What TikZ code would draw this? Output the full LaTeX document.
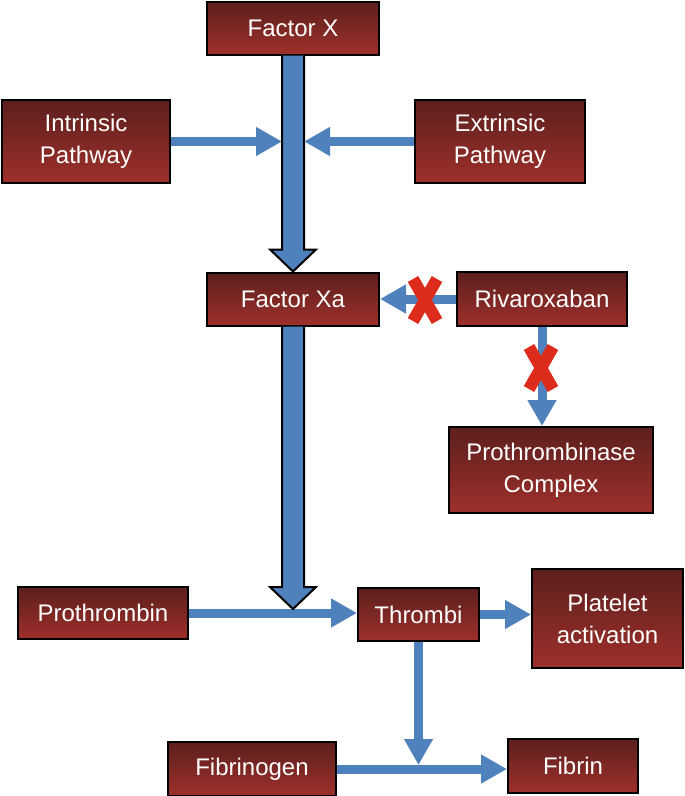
\documentclass[tikz,border=0pt]{standalone}
\usepackage{fontspec}
\setmainfont{Liberation Sans}
\usetikzlibrary{arrows.meta,calc}

\definecolor{boxtop}{RGB}{92,31,29}
\definecolor{boxbottom}{RGB}{158,48,43}
\definecolor{linkblue}{RGB}{79,129,189}
\definecolor{crossred}{RGB}{222,44,28}

\begin{document}
\begin{tikzpicture}[x=0.75pt,y=-0.75pt,
    box/.style 2 args={draw=black,line width=1.5pt,top color=boxtop,bottom color=boxbottom,
        text=white,align=center,inner sep=0pt,font=\fontsize{18}{24}\selectfont,
        minimum width=#1*0.75pt,minimum height=#2*0.75pt},
    link/.style={draw=linkblue,line width=6.75pt,-{Triangle[length=19.5pt,width=20.5pt]}},
    fat/.style={fill=linkblue,draw=black,line width=1.5pt,line join=miter},
    redx/.style={draw=crossred,line width=9pt}]
        \useasboundingbox (0,0) rectangle (685,796);

        \node[box={172}{53}] (fx) at (293,28) {Factor X};
        \node[box={168}{83}] (intr) at (86,141) {Intrinsic\\Pathway};
        \node[box={170}{83}] (extr) at (500,141) {Extrinsic\\Pathway};
        \node[box={172}{53}] (fxa) at (293,299) {Factor Xa};
        \node[box={170}{54}] (riva) at (542,299) {Rivaroxaban};
        \node[box={204}{86}] (ptc) at (551,470) {Prothrombinase\\Complex};
        \node[box={170}{52}] (pro) at (103,613) {Prothrombin};
        \node[box={121}{53}] (thr) at (418.5,614.5) {Thrombi};
        \node[box={151}{99}] (plt) at (607.5,618.5) {Platelet\\activation};
        \node[box={168}{54}] (fbg) at (252,769) {Fibrinogen};
        \node[box={130}{54}] (fbn) at (573,766) {Fibrin};

        \coordinate (jl) at ($(fx.south)+(-11,86)$); % left edge of the shaft
        \coordinate (jr) at ($(fx.south)+(11,86)$);  % right edge of the shaft
        \coordinate (jp) at (fxa.south |- pro.east);
        \coordinate (jf) at (thr.south |- fbg.east);

        % Factor X -> Factor Xa
        \draw[fat] ($(fx.south)+(-11,0)$) -- ($(fxa.north)+(-11,-22)$) -- ($(fxa.north)+(-23,-22)$)
            -- (fxa.north) -- ($(fxa.north)+(23,-22)$) -- ($(fxa.north)+(11,-22)$) -- ($(fx.south)+(11,0)$);
        \draw[link] (intr.east |- jl) -- (jl);
        \draw[link] (extr.west |- jr) -- (jr);

        % Factor Xa -> Thrombi
        \draw[link] (pro.east) -- (thr.west |- pro.east);
        \draw[fat] ($(fxa.south)+(-11,0)$) -- ($(jp)+(-11,-26)$) -- ($(jp)+(-23,-26)$)
            -- ($(jp)+(0,-4)$) -- ($(jp)+(23,-26)$) -- ($(jp)+(11,-26)$) -- ($(fxa.south)+(11,0)$);

        \draw[link] (riva.west) -- (fxa.east);
        \draw[link] (riva.south) -- (riva.south |- ptc.north);
        \draw[link] (thr.east) -- (plt.west |- thr.east);
        \draw[link] (fbg.east) -- (fbn.west |- fbg.east);
        \draw[link] (thr.south) -- ($(jf)+(0,-4)$);

        % the two blocks
        \coordinate (xa) at (425,300);
        \coordinate (xb) at (541,368);
        \draw[redx] ($(xa)+(-12,-21)$) -- ($(xa)+(12,21)$);
        \draw[redx] ($(xa)+(12,-21)$) -- ($(xa)+(-12,21)$);
        \draw[redx] ($(xb)+(-12,-21)$) -- ($(xb)+(12,21)$);
        \draw[redx] ($(xb)+(12,-21)$) -- ($(xb)+(-12,21)$);
\end{tikzpicture}
\end{document}
